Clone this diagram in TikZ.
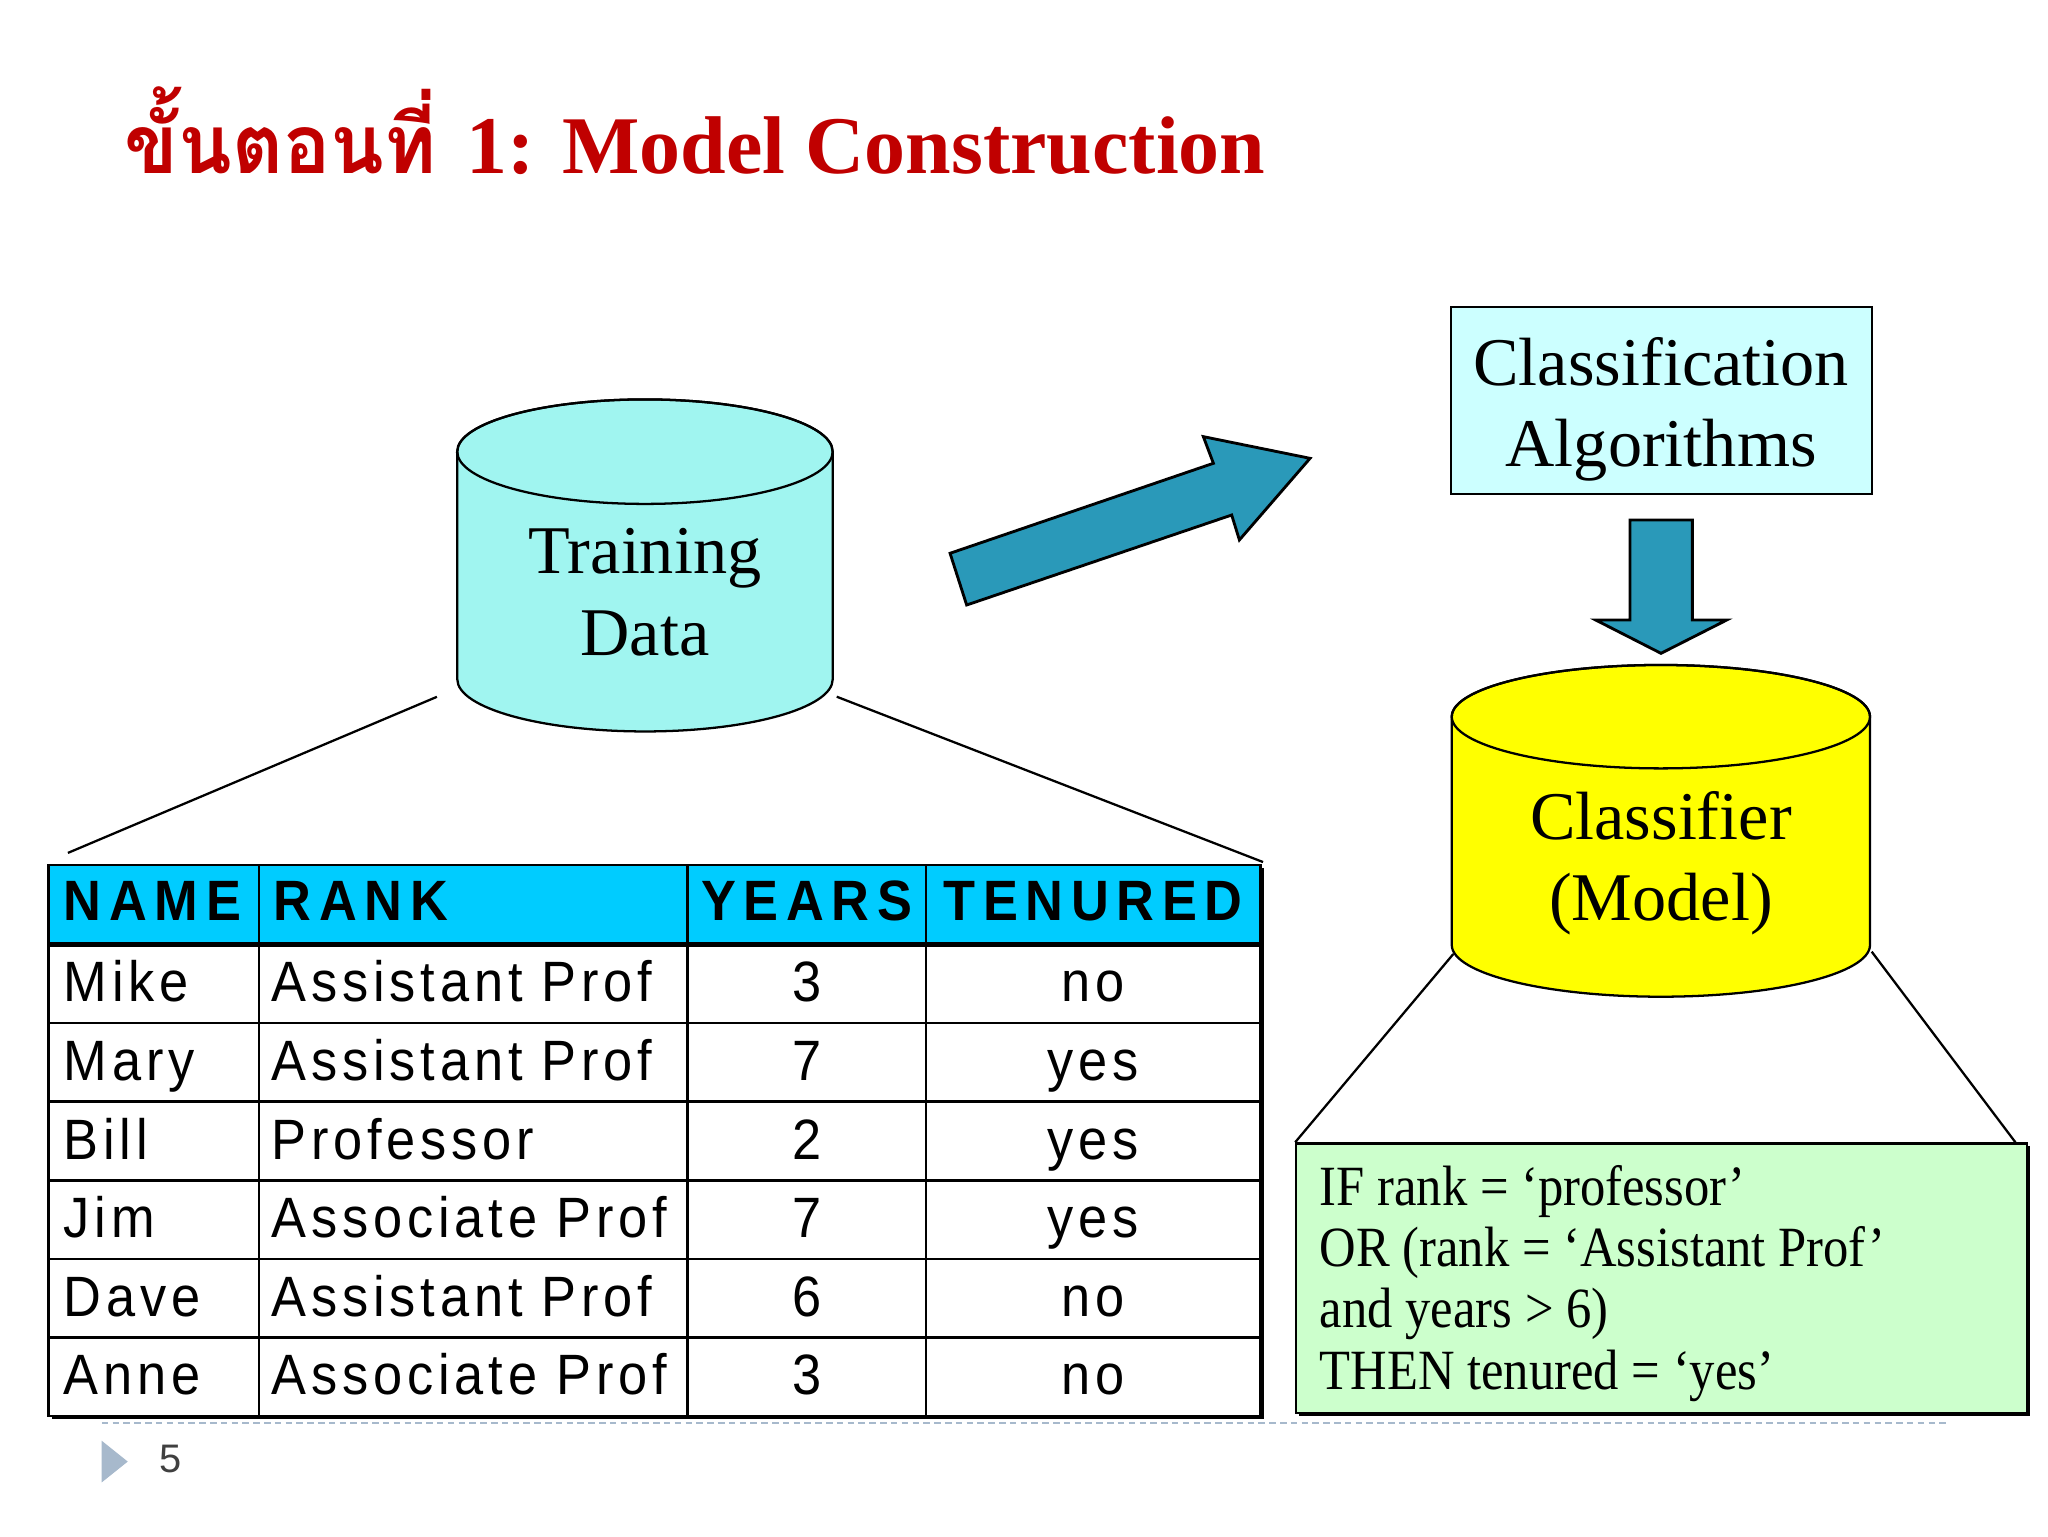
\documentclass[tikz,border=0pt]{standalone}
\usepackage{fontspec}
\setmainfont{Liberation Serif}
\newfontfamily\thaifont[Script=Thai,FakeStretch=0.96]{Loma}
\newfontfamily\tabfont[FakeStretch=0.92,LetterSpace=8.5]{Liberation Sans}
\newfontfamily\tabheadfont[FakeStretch=0.92,LetterSpace=13.5]{Liberation Sans}
\newfontfamily\rulefont[FakeStretch=0.89]{Liberation Serif}
\newfontfamily\footfont{Liberation Sans}
\usetikzlibrary{fit}
\definecolor{titlered}{HTML}{C00000}
\definecolor{tdfill}{HTML}{A0F5F0}
\definecolor{algfill}{HTML}{CCFFFF}
\definecolor{arrowfill}{HTML}{2A99B9}
\definecolor{modelfill}{HTML}{FFFF00}
\definecolor{headfill}{HTML}{00CCFF}
\definecolor{rulefill}{HTML}{CCFFCC}
\definecolor{footblue}{HTML}{A7B9CC}
\definecolor{footgray}{HTML}{404040}
\begin{document}
\begin{tikzpicture}[x=0.4592pt,y=-0.4592pt,
  outl/.style={draw=black,line width=0.8pt},
  conn/.style={draw=black,line width=0.8pt},
  bigarrow/.style={draw=black,line width=1pt,fill=arrowfill,line join=miter},
  tline/.style={draw=black,line width=0.9pt},
  serifbig/.style={inner sep=0pt,font=\fontsize{24}{28.7}\selectfont},
  headtxt/.style={inner sep=0pt,font=\tabheadfont\bfseries\fontsize{20}{24}\selectfont},
  celltxt/.style={inner sep=0pt,font=\tabfont\fontsize{20}{24}\selectfont}]
\useasboundingbox (0,0) rectangle (1568,1176);
\fill[white] (0,0) rectangle (1568,1176);

% title
\node[anchor=base west,inner sep=0pt,text=titlered,font=\fontsize{28.8}{34}\selectfont\bfseries] (title) at (95.2,132.7) {{\thaifont ขั้นตอนที่}\hspace{3.5pt} 1: Model Construction};

% training data cylinder
\path[outl,fill=tdfill] (350.1,345.8) -- (350.1,520) arc[start angle=180,end angle=360,x radius=66pt,y radius=18.37pt] -- (637.5,345.8) arc[start angle=0,end angle=180,x radius=66pt,y radius=18.37pt] -- cycle;
\draw[outl] (493.8,345.8) ellipse[x radius=66pt,y radius=18.37pt];
\node[serifbig,anchor=base] (train) at (493.8,439) {\begin{tabular}[t]{@{}c@{}}Training\\Data\end{tabular}};

% connectors to table
\coordinate (trL) at (334.5,533.5);
\coordinate (trR) at (640.6,533.4);
\coordinate (tabTL) at (52,653);
\coordinate (tabTR) at (967,660);
\draw[conn] (trL) -- (tabTL);
\draw[conn] (trR) -- (tabTR);

% big arrow
\draw[bigarrow] (727.4,423.6) -- (929.0,354.7) -- (921.3,334.3) -- (1003.0,350.9) -- (948.9,413.4) -- (943.0,394.3) -- (740.1,463.2) -- cycle;

% classification algorithms box
\node[fit={(1110.7,234.8) (1433,378.2)},inner sep=0pt,outl,fill=algfill] (alg) {};
\node[serifbig,anchor=base] (algtxt) at (1271.8,294.8) {\begin{tabular}[t]{@{}c@{}}Classification\\Algorithms\end{tabular}};

% down arrow
\draw[bigarrow] (1248,398.1) -- (1295.7,398.1) -- (1295.7,474.7) -- (1322,474.7) -- (1271.7,500.2) -- (1221.7,474.7) -- (1248,474.7) -- cycle;

% classifier cylinder
\path[outl,fill=modelfill] (1111.5,548.7) -- (1111.5,723.5) arc[start angle=180,end angle=360,x radius=73.52pt,y radius=18.18pt] -- (1431.7,548.7) arc[start angle=0,end angle=180,x radius=73.52pt,y radius=18.18pt] -- cycle;
\draw[outl] (1271.6,548.7) ellipse[x radius=73.52pt,y radius=18.18pt];
\node[serifbig,anchor=base] (model) at (1271.6,642.6) {\begin{tabular}[t]{@{}c@{}}Classifier\\(Model)\end{tabular}};

% rule box
\fill[black] (994.7,877.6) rectangle (1554.2,1084.2);
\node[fit={(992.5,875.4) (1552,1082)},inner sep=0pt,outl,fill=rulefill] (rules) {};
\node[anchor=base west,inner sep=0pt,font=\rulefont\fontsize{20}{21.6}\selectfont] (ruletxt) at (1010,922.6) {\begin{tabular}[t]{@{}l@{}}IF rank = ‘professor’\\OR (rank = ‘Assistant Prof’\\and years > 6)\\THEN tenured = ‘yes’\end{tabular}};

\coordinate (mdL) at (1112.7,730.4);
\coordinate (mdR) at (1433,728.6);
\coordinate (ruleTR) at (1543,874.5);
\draw[conn] (mdL) -- (rules.north west);
\draw[conn] (mdR) -- (ruleTR);

% table
\fill[black] (39.5,664.8) rectangle (967.5,1086.7);
\fill[white] (37,662.3) rectangle (965,1084.2);
\fill[headfill] (37,662.3) rectangle (965,723);
\draw[tline] (37,662.3) rectangle (965,1084.2);
\foreach \xx in {198.3,526.2,709} \draw[tline] (\xx,662.3) -- (\xx,1084.2);
\foreach \k in {1,...,5} \draw[tline] (37,{723+60.2*\k}) -- (965,{723+60.2*\k});
\draw[black,line width=1.6pt] (37,723) -- (965,723);

\node[headtxt,anchor=base west] (hname) at (48.5,704.9) {NAME};
\node[headtxt,anchor=base west] (hrank) at (209.3,704.9) {RANK};
\node[headtxt,anchor=base] (hyears) at (617.6,704.9) {YEARS};
\node[headtxt,anchor=base] (hten) at (837,704.9) {TENURED};

\foreach \nm/\rk/\yr/\tn [count=\i] in {Mike/Assistant Prof/3/no, Mary/Assistant Prof/7/yes, Bill/Professor/2/yes, Jim/Associate Prof/7/yes, Dave/Assistant Prof/6/no, Anne/Associate Prof/3/no} {
  \pgfmathsetmacro\yb{723+60.2*(\i-1)+44}
  \node[celltxt,anchor=base west] (name\i) at (48.4,\yb) {\nm};
  \node[celltxt,anchor=base west] (rank\i) at (207.5,\yb) {\rk};
  \node[celltxt,anchor=base] (years\i) at (617.6,\yb) {\yr};
  \node[celltxt,anchor=base] (ten\i) at (837,\yb) {\tn};
}

% footer
\coordinate (footL) at (78,1089.3);
\coordinate (footR) at (1490,1089.3);
\draw[footblue,line width=0.6pt,dash pattern=on 2.3pt off 1.5pt] (footL) -- (footR);
\fill[footblue] (77.8,1103) -- (97.8,1119) -- (77.8,1135) -- cycle;
\node[anchor=base west,inner sep=0pt,font=\footfont\fontsize{14}{16}\selectfont,text=footgray] (pagenum) at (121.7,1127.6) {5};
\end{tikzpicture}
\end{document}
